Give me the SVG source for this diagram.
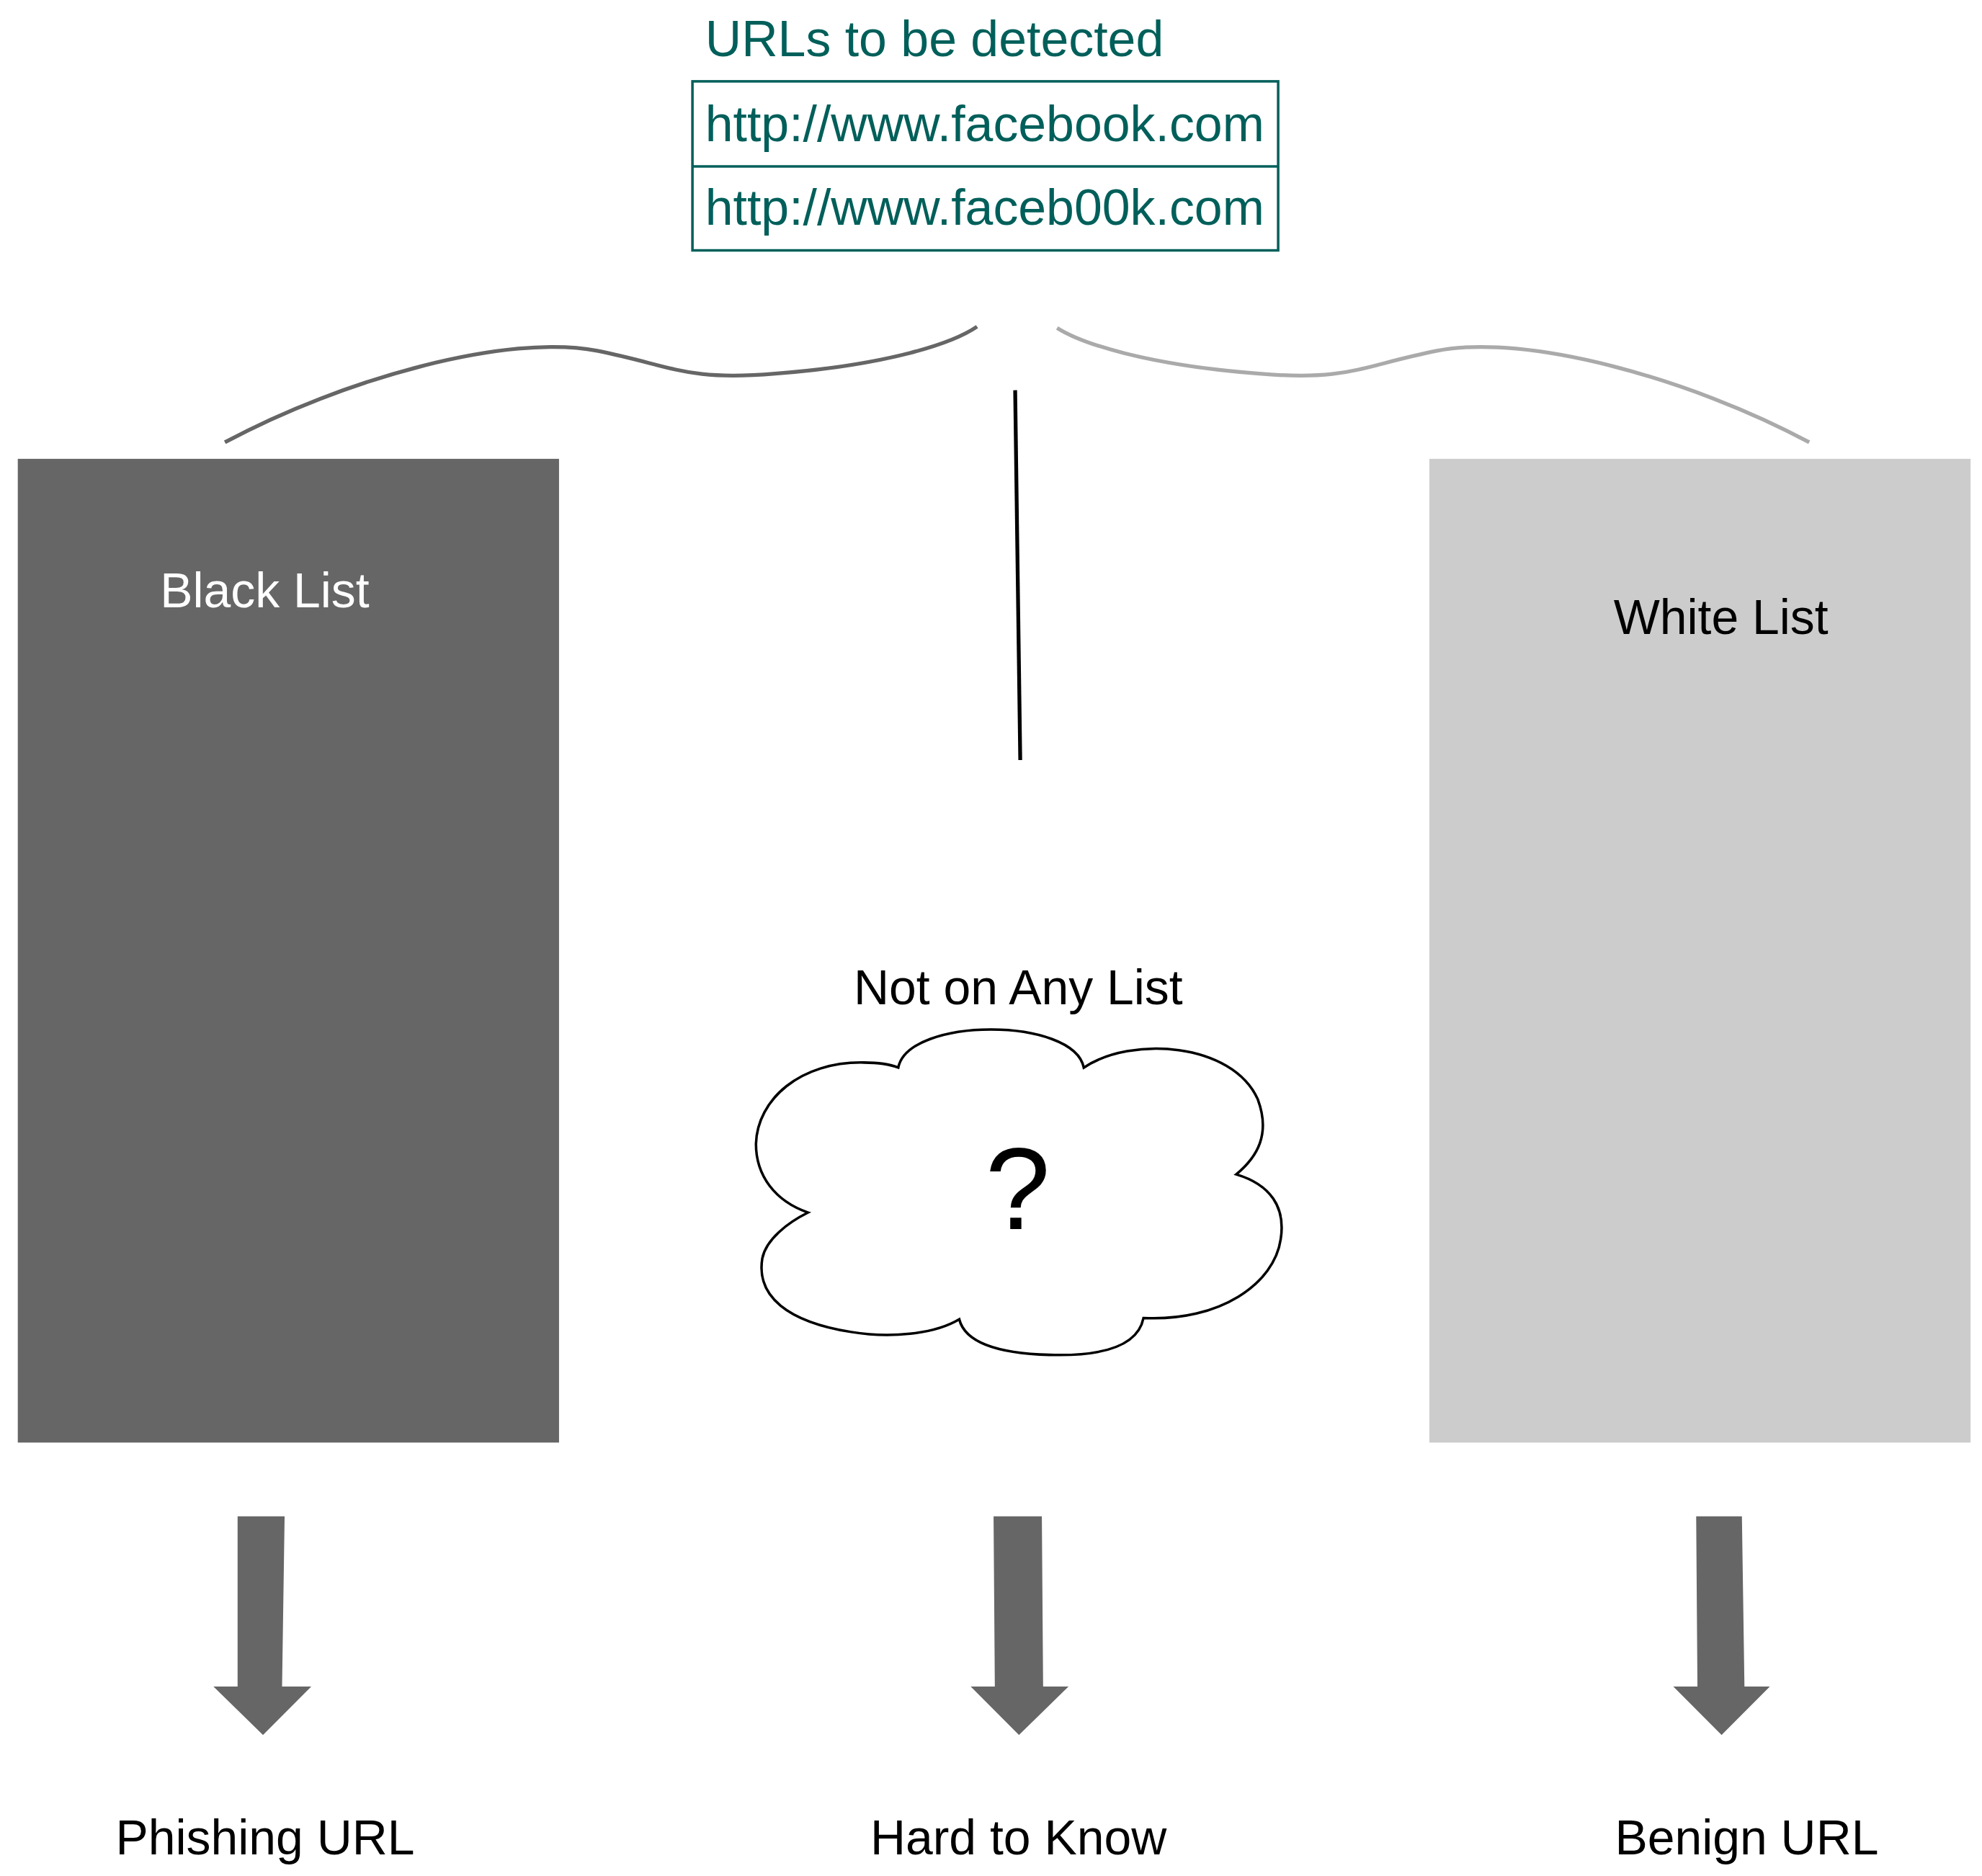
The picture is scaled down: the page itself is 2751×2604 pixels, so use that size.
<svg xmlns="http://www.w3.org/2000/svg" width="2751" height="2604" viewBox="0 0 2751 2604">
<style>
text{font-family:"Liberation Sans",Arial,sans-serif;font-size:38.5px}
.teal{fill:#005f5a;font-size:39.6px}
.arrow{fill:#666}
</style>
<rect width="2751" height="2604" fill="#fff"/>
<g transform="scale(1.7635,1.7642)">
<g id="urls">
<text class="teal" x="555" y="44">URLs to be detected</text>
<rect x="545" y="64" width="461" height="133" fill="none" stroke="#005f5a" stroke-width="2"/>
<line x1="545" y1="131" x2="1006" y2="131" stroke="#005f5a" stroke-width="2"/>
<text class="teal" x="555" y="111">http://www.facebook.com</text>
<text class="teal" x="555" y="177">http://www.faceb00k.com</text>
</g>
<g id="connectors" fill="none" stroke-width="3">
<path d="M177,348 C270,298 400,262 470,276 C530,288 540,300 610,294 C700,287 750,270 769,257" stroke="#666"/>
<path d="M832,258 C851,270 901,287 991,294 C1061,300 1071,288 1131,276 C1201,262 1331,298 1424,348" stroke="#aaa"/>
<path d="M799,307 L803,598" stroke="#000"/>
</g>
<g id="blacklist">
<rect x="14" y="361" width="426" height="774" fill="#666"/>
<text x="126" y="478" fill="#fff">Black List</text>
</g>
<g id="whitelist">
<rect x="1125" y="361" width="426" height="774" fill="#ccc"/>
<text x="1270" y="499" fill="#000">White List</text>
</g>
<g id="notonlist">
<text x="672" y="790">Not on Any List</text>
<path d="M707,840 C715,800 845,800 853,840 C890,815 970,820 990,865 C1000,892 990,910 973,924 C1000,932 1012,950 1008,975 C1003,1010 960,1040 900,1037 C895,1062 860,1067 826,1066 C790,1065 760,1058 755,1038 C735,1050 700,1053 670,1048 C620,1040 595,1020 600,990 C603,975 620,962 636,954 C610,945 595,925 595,900 C596,865 630,835 680,836 C695,836 702,838 707,840 Z" fill="#fff" stroke="#000" stroke-width="2"/>
<text x="801" y="967" text-anchor="middle" style="font-size:92px">?</text>
</g>
<g id="arrows">
<polygon class="arrow" points="187,1193 224,1193 222,1327 245,1327 207,1365 168,1327 187,1327"/>
<polygon class="arrow" points="782,1193 820,1193 821,1327 841,1327 802,1365 764,1327 783,1327"/>
<polygon class="arrow" points="1335,1193 1371,1193 1373,1327 1393,1327 1355,1365 1317,1327 1336,1327"/>
</g>
<g id="outcomes">
<text x="91" y="1459">Phishing URL</text>
<text x="685" y="1459">Hard to Know</text>
<text x="1271" y="1459">Benign URL</text>
</g>
</g>
</svg>
